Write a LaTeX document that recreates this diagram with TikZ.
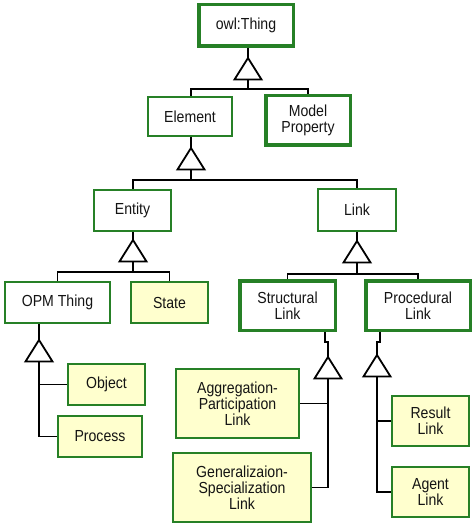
\documentclass[tikz,border=0pt]{standalone}
\usepackage{fontspec}
\setmainfont{Liberation Sans}[FakeStretch=0.88]
\definecolor{boxgreen}{RGB}{38,128,38}
\definecolor{boxyellow}{RGB}{255,255,206}
\definecolor{txt}{RGB}{20,20,20}
\newcommand\gentri[1]{\draw[tri] (#1a) -- ++(-13.5,21.5) -- ++(27,0) -- cycle; \path (#1a) ++(0,21.5) coordinate (#1b);}
\begin{document}
\begin{tikzpicture}[x=1pt,y=-1pt,
 box/.style={draw=boxgreen, line width=2pt, fill=white, inner sep=0pt, align=center,
   font=\fontsize{16}{15.7}\selectfont, text=txt},
 thickbox/.style={box, line width=3.5pt},
 ybox/.style={box, fill=boxyellow},
 conn/.style={draw=black, line width=1.8pt},
 tri/.style={draw=black, line width=1.8pt, fill=white, line join=miter}]
\useasboundingbox (0,0) rectangle (474,526);
\fill[white] (0,0) rectangle (474,526);

% boxes
\node[thickbox, minimum width=94.5pt, minimum height=41.5pt] (owl) at (246,25.5) {owl:Thing};
\node[box, minimum width=84pt, minimum height=39pt] (elem) at (190,116.5) {Element};
\node[thickbox, minimum width=84.5pt, minimum height=49.5pt] (mp) at (308,120.5) {Model\\Property};
\node[box, minimum width=77pt, minimum height=41pt] (entity) at (132.5,210.5) {Entity};
\node[box, minimum width=78pt, minimum height=42pt] (link) at (357,210) {Link};
\node[box, minimum width=105pt, minimum height=41pt] (opm) at (57.5,302.5) {OPM Thing};
\node[ybox, minimum width=77pt, minimum height=41pt] (state) at (169.5,302.5) {State};
\node[thickbox, minimum width=95.5pt, minimum height=49.5pt] (struct) at (287.5,305.5) {Structural\\Link};
\node[thickbox, minimum width=104.5pt, minimum height=49.5pt] (proc) at (418,305.5) {Procedural\\Link};
\node[ybox, minimum width=77pt, minimum height=41pt] (object) at (106.5,384.5) {Object};
\node[ybox, minimum width=84pt, minimum height=41pt] (process) at (100,436.5) {Process};
\node[ybox, minimum width=123pt, minimum height=69pt] (agg) at (237.5,403.5) {Aggregation-\\Participation\\Link};
\node[ybox, minimum width=138pt, minimum height=69pt] (gen) at (242,487.5) {Generalizaion-\\Specialization\\Link};
\node[ybox, minimum width=77pt, minimum height=50pt] (result) at (430.5,421) {Result\\Link};
\node[ybox, minimum width=77pt, minimum height=50pt] (agent) at (430.5,492) {Agent\\Link};

% triangle apexes and bar points
\coordinate (t1a) at (248,58);
\coordinate (t2a) at (191,148);
\coordinate (t3a) at (133,240);
\coordinate (t4a) at (357,241);
\coordinate (t5a) at (39,340);
\coordinate (t6a) at (328,357);
\coordinate (t7a) at (377,355);
\coordinate (b1) at (248,89);
\coordinate (b2) at (191,180);
\coordinate (b3) at (133,272);
\coordinate (b4) at (357,274);

% owl:Thing
\draw[conn] (t1a |- owl.south) -- (t1a);
\gentri{t1}
\draw[conn] (t1b) -- (b1);
\draw[conn] (elem.north -| t2a) |- (b1) -| (mp.north);

% Element
\draw[conn] (elem.south -| t2a) -- (t2a);
\gentri{t2}
\draw[conn] (t2b) -- (b2);
\draw[conn] (entity.north -| t3a) |- (b2) -| (link.north);

% Entity
\draw[conn] (entity.south -| t3a) -- (t3a);
\gentri{t3}
\draw[conn] (t3b) -- (b3);
\draw[conn] (opm.north) |- (b3) -| (state.north);

% Link
\draw[conn] (link.south -| t4a) -- (t4a);
\gentri{t4}
\draw[conn] (t4b) -- (b4);
\draw[conn] (struct.north) |- (b4) -| (proc.north);

% OPM Thing
\draw[conn] (opm.south -| t5a) -- (t5a);
\gentri{t5}
\draw[conn] (t5b) |- (process.west);
\draw[conn] (object.west) -| (t5b);

% Structural Link
\draw[conn] (t6a |- struct.south) ++(-3,0) -- ++(0,10) -| (t6a);
\gentri{t6}
\draw[conn] (t6b) |- (gen.east);
\draw[conn] (agg.east) -| (t6b);

% Procedural Link
\draw[conn] (t7a |- proc.south) ++(3,0) -- ++(0,10) -| (t7a);
\gentri{t7}
\draw[conn] (t7b) |- (agent.west);
\draw[conn] (result.west) -| (t7b);
\end{tikzpicture}
\end{document}
